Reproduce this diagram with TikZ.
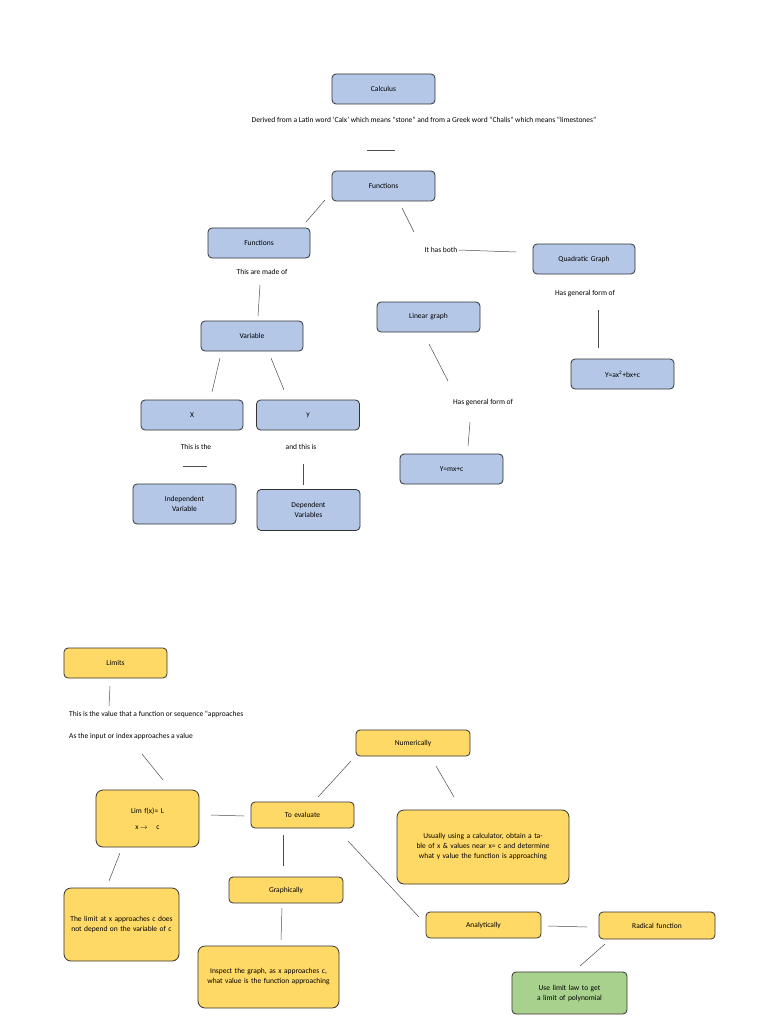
\documentclass[tikz,border=0pt]{standalone}
\usepackage{fontspec}
\setmainfont{Carlito}
\begin{document}
\begin{tikzpicture}[x=1pt,y=-1pt,
 box/.style={draw=black!80,line width=0.8pt,rounded corners=4pt,minimum height=30pt,text width=#1,align=center,inner sep=2pt,font=\fontsize{7.5}{10}\selectfont},
 blue/.style={box=#1,fill=blue!20!cyan!10!gray!20!white,fill={rgb,255:red,180;green,199;blue,231}},
 yel/.style={box=#1,fill={rgb,255:red,255;green,217;blue,102}},
 grn/.style={box=#1,fill={rgb,255:red,169;green,209;blue,142}},
 lbl/.style={font=\fontsize{7.5}{10}\selectfont,inner sep=1pt},
 ln/.style={draw=black!70,line width=0.5pt}]
\useasboundingbox (0,0) rectangle (768,1024);
\node[blue=99pt] (calc) at (383.5,89) {Calculus};
\node[lbl] (deriv) at (424,120) {Derived from a Latin word ‘Calx’ which means “stone” and from a Greek word “Chalis” which means “limestones”};
\coordinate (u1) at (367,150); \coordinate (u2) at (395,150);
\draw[ln] (u1)--(u2);
\node[blue=99pt] (f1) at (383.5,186) {Functions};
\node[blue=98pt] (f2) at (259,243) {Functions};
\node[lbl] (made) at (262,272) {This are made of};
\node[blue=98pt] (var) at (252,336) {Variable};
\node[blue=98pt] (x) at (192,415) {X};
\node[blue=99pt] (y) at (308,415) {y};
\node[lbl] (thisis) at (196,447) {This is the};
\coordinate (u3) at (183,466); \coordinate (u4) at (207,466);
\draw[ln] (u3)--(u4);
\node[lbl] (andthis) at (301,447) {and this is};
\node[blue=99pt,minimum height=40pt] (ind) at (184.5,504) {Independent\\Variable};
\node[blue=99pt,minimum height=41pt] (dep) at (308.5,510) {Dependent\\Variables};
\node[lbl] (both) at (441,250) {It has both};
\node[blue=98pt] (quad) at (584,259) {Quadratic Graph};
\node[lbl] (hg1) at (585,294) {Has general form of};
\node[blue=99pt] (lin) at (428.5,317) {Linear graph};
\node[lbl] (hg2) at (483,403) {Has general form of};
\node[blue=99pt] (ymx) at (451.5,469) {Y=mx+c};
\node[blue=99pt] (yax) at (622.5,374) {Y=ax\textsuperscript{2}+bx+c};
\draw[ln] (f1.south west)+(-7,0) coordinate (a1) (f2.north east)+(-4,-6) coordinate (a2);
\draw[ln] (325,200) -- (306,222);
\draw[ln] (402,208) -- (414,232);
\draw[ln] (both.east)+(0,0) -- (516,252);
\draw[ln] (260,285) -- (258,316);
\draw[ln] (220,358) -- (212,392);
\draw[ln] (271,358) -- (284,390);
\draw[ln] (303,464) -- (303,485);
\draw[ln] (429,344) -- (448,381);
\draw[ln] (470,422) -- (468,446);
\draw[ln] (598,310) -- (598,348);
% limits
\node[yel=99pt] (lim) at (115.5,663) {Limits};
\draw[ln] (110,686) -- (109,706);
\node[lbl,anchor=west] (t1) at (68,714) {This is the value that a function or sequence “approaches};
\node[lbl,anchor=west] (t2) at (68,736) {As the input or index approaches a value};
\draw[ln] (142,754) -- (163,780);
\node[yel=99pt,minimum height=57pt,rounded corners=7pt] (limf) at (147.5,818.5) {Lim f(x)= L\\[6pt] x $\!\to$\hspace{6pt} c};
\node[yel=99pt,minimum height=26pt] (eval) at (302.5,815) {To evaluate};
\draw[ln] (211,815) -- (244,816);
\node[yel=110pt,minimum height=26pt] (num) at (413,743) {Numerically};
\draw[ln] (318,797) -- (351,761);
\draw[ln] (436,766) -- (454,797);
\node[yel=168pt,minimum height=74pt,rounded corners=7pt] (usu) at (483,847) {Usually using a calculator, obtain a table of x \& values near x= c and determine what y value the function is approaching};
\node[yel=110pt,minimum height=26pt] (graph) at (286,890) {Graphically};
\draw[ln] (283,835) -- (283,866);
\draw[ln] (348,841) -- (419,917);
\node[yel=111pt,minimum height=26pt] (ana) at (483.5,925) {Analytically};
\draw[ln] (548,926) -- (587,927);
\node[yel=112pt,minimum height=27pt] (rad) at (657,925.5) {Radical function};
\draw[ln] (605,944) -- (580,966);
\node[grn=111pt,minimum height=42pt] (lawn) at (569.5,993) {Use limit law to get a limit of polynomial};
\node[yel=137pt,minimum height=62pt,rounded corners=7pt] (insp) at (268.5,977) {Inspect the graph, as x approaches c, what value is the function approaching};
\draw[ln] (282,908) -- (281,940);
\node[yel=111pt,minimum height=73pt,rounded corners=7pt] (lax) at (121.5,924.5) {The limit at x approaches c does not depend on the variable of c};
\draw[ln] (120,853) -- (109,881);
\end{tikzpicture}
\end{document}
